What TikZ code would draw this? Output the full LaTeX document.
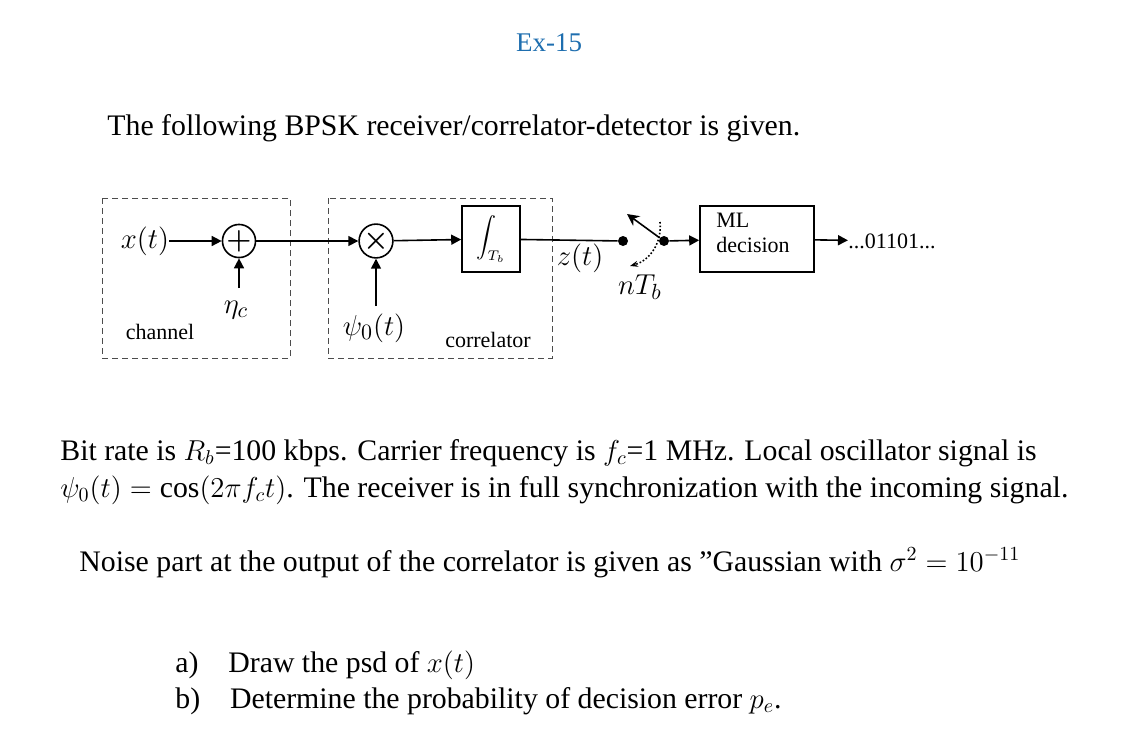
\documentclass[tikz,border=0pt]{standalone}
\usepackage{amsmath,amssymb}
\usepackage{fontspec}
\setmainfont{Liberation Serif}
\usetikzlibrary{arrows.meta}
\definecolor{titleblue}{RGB}{30,110,175}

\begin{document}
\begin{tikzpicture}[x=0.5pt,y=-0.5pt,
            txt/.style={anchor=base west, inner sep=0pt, font=\fontsize{14.9}{17}\selectfont},
            lab/.style={inner sep=0pt, font=\fontsize{15}{17}\selectfont},
            small/.style={inner sep=0pt, font=\fontsize{11}{12.5}\selectfont},
            op/.style={circle, draw, thick, minimum size=15pt, inner sep=0pt},
            blk/.style={draw, thick, inner sep=0pt},
            grp/.style={draw, densely dashed, gray!60!black},
            sig/.style={thick, -{Triangle[length=5pt,width=5pt]}},
            wire/.style={thick},
            dot/.style={circle, fill, inner sep=0pt, minimum size=5pt},
        ]
        \useasboundingbox (0,0) rectangle (1130,746);
        % title and question
        \node[lab, text=titleblue, font=\fontsize{13.5}{15}\selectfont] (title) at (549,43) {Ex-15};
        \node[txt] (intro) at (107,135) {The following BPSK receiver/correlator-detector is given.};
        % dashed groups
        \draw[grp] (102,198) rectangle (290,358);
        \draw[grp] (328,198) rectangle (552,358);
        % diagram
        \node[lab] (x) at (145,241) {$x(t)$};
        \node[op] (add) at (239,241) {\Large$\boldsymbol{+}$};
        \coordinate (etain) at (239,288);
        \node[lab] (eta) at (236,310) {$\eta_c$};
        \node[small] (chan) at (160,332) {channel};
        \node[op] (mul) at (376,241) {\Large$\boldsymbol{\times}$};
        \coordinate (psiin) at (376,306);
        \node[lab] (psi) at (374,328) {$\psi_0(t)$};
        \node[blk, minimum width=29pt, minimum height=33pt] (int) at (491,239) {$\displaystyle\int_{T_b}$};
        \node[small] (corr) at (488,340) {correlator};
        \node[dot] (s1) at (623,241) {};
        \node[dot] (s2) at (664,241) {};
        \coordinate (lev) at (627,214);
        \node[lab] (z) at (580,258) {$z(t)$};
        \node[lab] (nt) at (640,287) {$nT_b$};
        \node[blk, minimum width=57pt, minimum height=33pt] (ml) at (757,239) {};
        \node[small, align=left, anchor=north west] (mltxt) at (716,213) {ML\\decision};
        \node[small, anchor=west] (bits) at (848,241) {...01101...};
        \draw[sig] (x) -- (add);
        \draw[sig] (etain) -- (add);
        \draw[sig] (add) -- (mul);
        \draw[sig] (psiin) -- (mul);
        \draw[sig] (mul) -- (int);
        \draw[wire] (int) -- (s1);
        \draw[wire, -{Stealth[length=6pt,width=6pt]}] (s2) -- (lev);
        \draw[thick, densely dotted, -{Stealth[length=4pt]}] (660,222) to[bend left=40] (630,266);
        \draw[sig] (s2) -- (ml);
        \draw[sig] (ml) -- (bits);
        % problem text
        \node[txt] (l1) at (60,460) {Bit rate is $R_b$=100 kbps. Carrier frequency is $f_c$=1 MHz. Local oscillator signal is};
        \node[txt] (l2) at (60,497) {$\psi_0(t)=\cos(2\pi f_c t)$. The receiver is in full synchronization with the incoming signal.};
        \node[txt] (l3) at (79,571) {Noise part at the output of the correlator is given as \symbol{34}Gaussian with $\sigma^2=10^{-11}$};
        \node[txt] (qa) at (175,672) {a)\quad Draw the psd of $x(t)$};
        \node[txt] (qb) at (175,708) {b)\quad Determine the probability of decision error $p_e$.};
    \end{tikzpicture}
\end{document}
